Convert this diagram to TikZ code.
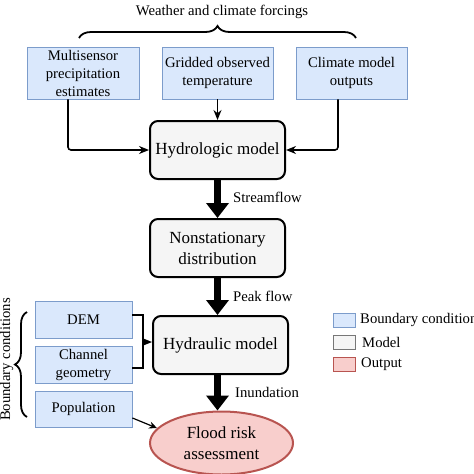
\documentclass[tikz,border=0pt]{standalone}
\usepackage{fontspec}
\setmainfont{Liberation Serif}
\usetikzlibrary{arrows.meta,shapes.geometric,decorations.pathreplacing}
\definecolor{bfill}{HTML}{DAE8FC}
\definecolor{bdraw}{HTML}{7C9CCB}
\definecolor{gfill}{HTML}{F5F5F5}
\definecolor{gdraw}{HTML}{777777}
\definecolor{rfill}{HTML}{F8CECC}
\definecolor{rdraw}{HTML}{B85450}
\begin{document}
\begin{tikzpicture}[x=1pt,y=-1pt,
  smallfont/.style={font=\fontsize{14.7}{18}\selectfont},
  bigfont/.style={font=\fontsize{17}{21}\selectfont},
  bc/.style={draw=bdraw,fill=bfill,line width=0.9pt,align=center,inner sep=0pt,smallfont},
  mdl/.style={draw=black,fill=gfill,line width=2pt,rounded corners=8pt,align=center,inner sep=0pt,bigfont,minimum width=135pt,minimum height=58pt},
  outp/.style={ellipse,draw=rdraw,fill=rfill,line width=2pt,align=center,inner sep=0pt,bigfont,minimum width=143pt,minimum height=63pt},
  conn/.style={line width=1.6pt,draw=black},
  tarrow/.style={conn,-{Stealth[length=10pt,width=8pt]}},
  fatarrow/.style={draw=black,line width=6.5pt,-{Triangle[width=22pt,length=15pt]}},
  lbl/.style={smallfont,inner sep=0pt,anchor=west},
  legb/.style={line width=0.9pt,minimum width=22pt,minimum height=14pt,inner sep=0pt},
  bracestyle/.style={decorate,line width=1.8pt}
]
\useasboundingbox (0,0) rectangle (474,474);
% title and top brace
\node[smallfont,inner sep=0pt] (title) at (222,12) {Weather and climate forcings};
\draw[bracestyle,decoration={brace,amplitude=12pt}] (79,38) -- (356,38);
% top boxes
\node[bc,minimum width=112pt,minimum height=52pt] (m1) at (83,73) {Multisensor\\precipitation\\estimates};
\node[bc,minimum width=111pt,minimum height=52pt] (m2) at (217.5,73) {Gridded observed\\temperature};
\node[bc,minimum width=111pt,minimum height=52pt] (m3) at (351.5,73) {Climate model\\outputs};
% models
\node[mdl] (hydro) at (217.5,150) {Hydrologic model};
\node[mdl] (nonst) at (217.5,248) {Nonstationary\\distribution};
\node[mdl] (hydra) at (220.5,345) {Hydraulic model};
\node[outp] (flood) at (221.5,443) {Flood risk\\assessment};
% lower boxes
\node[bc,minimum width=97pt,minimum height=37pt] (dem) at (83.5,319.5) {DEM};
\node[bc,minimum width=97pt,minimum height=37pt] (chan) at (83.5,364.5) {Channel\\geometry};
\node[bc,minimum width=97pt,minimum height=36pt] (pop) at (83.5,409) {Population};
% left brace and rotated label
\draw[bracestyle,decoration={brace,amplitude=12pt}] (27,417) -- (27,312);
\node[smallfont,inner sep=0pt,rotate=90,anchor=base] (bcl) at (10,359.5) {Boundary conditions};
% connectors top
\draw[tarrow,rounded corners=3pt] ([xshift=-15pt]m1.south) |- (hydro.west);
\draw[tarrow] (m2.south) -- (hydro.north);
\draw[tarrow,rounded corners=3pt] ([xshift=-13.5pt]m3.south) |- (hydro.east);
% thick arrows
\draw[fatarrow] (hydro.south) -- (nonst.north);
\node[lbl] (sf) at (233,197) {Streamflow};
\draw[fatarrow] (nonst.south) -- (nonst.south |- hydra.north);
\node[lbl] (pf) at (233,296) {Peak flow};
\draw[fatarrow] (nonst.south |- hydra.south) -- (nonst.south |- flood.north);
\node[lbl] (inu) at (235,392) {Inundation};
% bracket from DEM and channel
\coordinate (bt) at (143,315);
\coordinate (bb) at (143,368);
\coordinate (bm) at (143,342);
\draw[conn] (dem.east |- bt) -- (bt) -- (bb) -- (chan.east |- bb);
\draw[tarrow] (bm) -- (bm -| hydra.west);
% population arrow
\draw[conn,-{Stealth[length=8pt,width=7pt]},line width=1.2pt] ([yshift=-9pt]pop.east) -- (flood.167);
% legend
\node[legb,draw=bdraw,fill=bfill] (lg1) at (344,320) {};
\node[legb,draw=gdraw,fill=gfill] (lg2) at (344,342) {};
\node[legb,draw=rdraw,fill=rfill] (lg3) at (344,364.5) {};
\node[lbl] (lt1) at (360,320) {Boundary conditions};
\node[lbl] (lt2) at (362,342) {Model};
\node[lbl] (lt3) at (361,364.5) {Output};
\end{tikzpicture}
\end{document}
